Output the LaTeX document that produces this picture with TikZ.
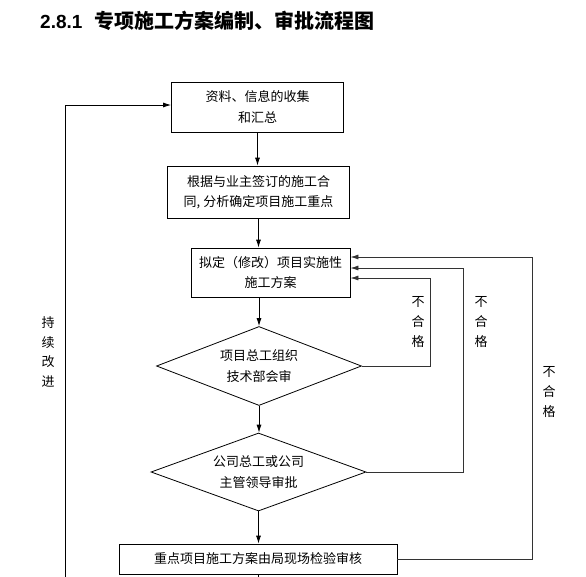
\documentclass[tikz,border=0pt]{standalone}
\usepackage{fontspec}
\newfontfamily\cjk{Noto Sans CJK SC}
\newfontfamily\titlelatin{Liberation Sans}
\usetikzlibrary{shapes.geometric, arrows.meta, positioning, calc}
\tikzset{
  arr/.style={-{Latex[length=8pt, width=5pt]}, line width=0.8pt, black},
  fbarr/.style={-{Latex[length=8pt, width=5pt]}, line width=0.8pt, black!80},
  stepbox/.style={rectangle, draw=black, line width=0.8pt, align=center, inner sep=0pt, font=\cjk\fontsize{13}{20.5}\selectfont},
  checkbox/.style={diamond, shape aspect=2.75, draw=black, line width=0.8pt, align=center, inner sep=0pt, font=\cjk\fontsize{13}{20.5}\selectfont},
  vlabel/.style={align=center, inner sep=0pt, font=\cjk\fontsize{13}{19.8}\selectfont},
}

\begin{document}
\begin{tikzpicture}[x=1pt, y=-1pt]
  \useasboundingbox (0,0) rectangle (586,576);

  % title
  \node[anchor=west, inner sep=0pt, font=\cjk\bfseries\fontsize{20}{20}\selectfont] (title) at (40,20.5)
    {{\titlelatin\fontsize{19}{19}\selectfont 2.8.1}\hspace{12pt}专项施工方案编制、审批流程图};

  % main chain
  \node[stepbox, minimum width=172pt, minimum height=50pt] (collect) at (257.5,107) {资料、信息的收集\\和汇总};
  \node[stepbox, minimum width=182pt, minimum height=52pt] (contract) at (258.5,192) {根据与业主签订的施工合\\同, 分析确定项目施工重点};
  \node[stepbox, minimum width=159pt, minimum height=49pt] (scheme) at (270.5,272.5) {拟定（修改）项目实施性\\施工方案};
  \node[checkbox, minimum width=205pt, minimum height=79pt] (review) at (259,366) {项目总工组织\\技术部会审};
  \node[checkbox, minimum width=215pt, minimum height=78pt] (approve) at (258.5,472) {公司总工或公司\\主管领导审批};
  \node[stepbox, minimum width=278pt, minimum height=30pt] (inspect) at (258,559) {重点项目施工方案由局现场检验审核};

  \draw[arr] (collect.south) -- (collect.south |- contract.north);
  \draw[arr] (contract.south) -- (contract.south |- scheme.north);
  \draw[arr] (review.north |- scheme.south) -- (review.north);
  \draw[arr] (review.south) -- (review.south |- approve.north);
  \draw[arr] (approve.south) -- (approve.south |- inspect.north);

  % rejections back to the scheme
  \foreach \src/\x/\y in {review/430/278, approve/463/268, inspect/532/257} {
    \draw[fbarr] (\src.east) -| (\x,\y) -- (scheme.east |- 0,\y);
  }
  \node[vlabel] (fail1) at (418,322) {不\\合\\格};
  \node[vlabel] (fail2) at (481,322) {不\\合\\格};
  \node[vlabel] (fail3) at (549,392) {不\\合\\格};

  % continuous improvement loop
  \coordinate (loopin) at (65,580);
  \coordinate (downout) at (258,580);
  \draw[line width=0.8pt] (inspect.south) -- (downout);
  \draw[arr] (loopin) |- (collect.west |- 0,105);
  \node[vlabel] (improve) at (48,352) {持\\续\\改\\进};
\end{tikzpicture}
\end{document}
